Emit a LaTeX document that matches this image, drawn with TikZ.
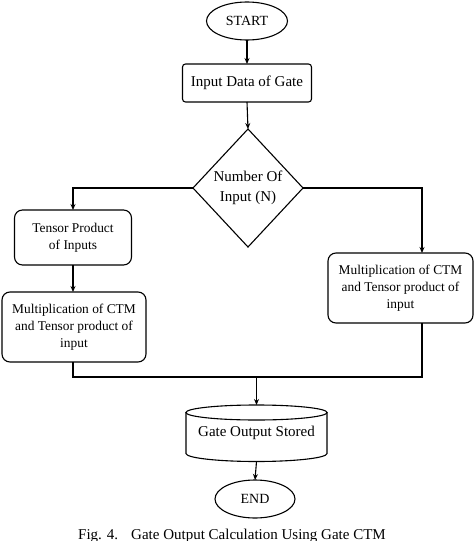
\documentclass[tikz,border=0pt]{standalone}
\usepackage{fontspec}
\setmainfont{Liberation Serif}
\usetikzlibrary{shapes.geometric,arrows.meta}
\begin{document}
\begin{tikzpicture}[x=1pt,y=1pt,
  line width=1.1pt,
  every node/.style={inner sep=0pt, outer sep=0pt, align=center},
  term/.style={draw, ellipse, minimum width=81pt, minimum height=38pt, font=\fontsize{14}{17}\selectfont},
  procbox/.style={draw, rectangle, rounded corners=8pt, font=\fontsize{13.4}{17}\selectfont},
  inbox/.style={draw, rectangle, rounded corners=3pt, minimum width=129pt, minimum height=38pt, font=\fontsize{15}{18}\selectfont},
  decis/.style={draw, diamond, minimum width=110pt, minimum height=118pt, font=\fontsize{15}{20}\selectfont},
  arr/.style={-{Stealth[length=6pt,width=5pt]}}
]
\useasboundingbox (0,0) rectangle (474,-541);

\node[term] (start) at (247,-21) {START};
\node[inbox] (input) at (247,-83) {Input Data of Gate};
\node[decis] (dia) at (248,-188) {Number Of\\Input (N)};
\node[procbox, minimum width=117pt, minimum height=55pt] (tensor) at (73,-237.5) {Tensor Product\\of Inputs};
\node[procbox, minimum width=144pt, minimum height=70pt] (lmult) at (74,-327) {Multiplication of CTM\\and Tensor product of\\input};
\node[procbox, minimum width=145pt, minimum height=70pt] (rmult) at (400.5,-288) {Multiplication of CTM\\and Tensor product of\\input};
\node[rectangle, minimum width=141pt, minimum height=41pt, font=\fontsize{15}{18}\selectfont] (store) at (256.5,-433) {Gate Output Stored};
\node[term, minimum width=80pt] (end) at (255,-499) {END};
\node[font=\fontsize{15}{18}\selectfont, anchor=base] (cap) at (232,-539) {Fig. 4.\hspace{13pt}Gate Output Calculation Using Gate CTM};

\coordinate (rx) at (422,0);
\coordinate (my) at (0,-377);

% cylinder drawing
\draw (store.north west) -- (store.south west) arc[start angle=180, end angle=360, x radius=70.5pt, y radius=8pt] -- (store.north east);
\draw (store.north) ellipse[x radius=70.5pt, y radius=7.5pt];

\draw[arr] (start.south) -- (input.north);
\draw[arr] (input.south) -- (dia.north);
\draw[arr] (dia.west) -| (tensor.north);
\draw[arr] (dia.east) -| (rmult.north -| rx);
\draw[arr] (tensor.south) -- (tensor.south |- lmult.north);
\draw (tensor.south |- lmult.south) |- (rx |- my) -- (rmult.south -| rx);
\draw[arr] (store.north |- my) -- ([yshift=7.5pt]store.north);
\draw[arr] ([yshift=-8pt]store.south) -- (end.north);
\end{tikzpicture}
\end{document}
